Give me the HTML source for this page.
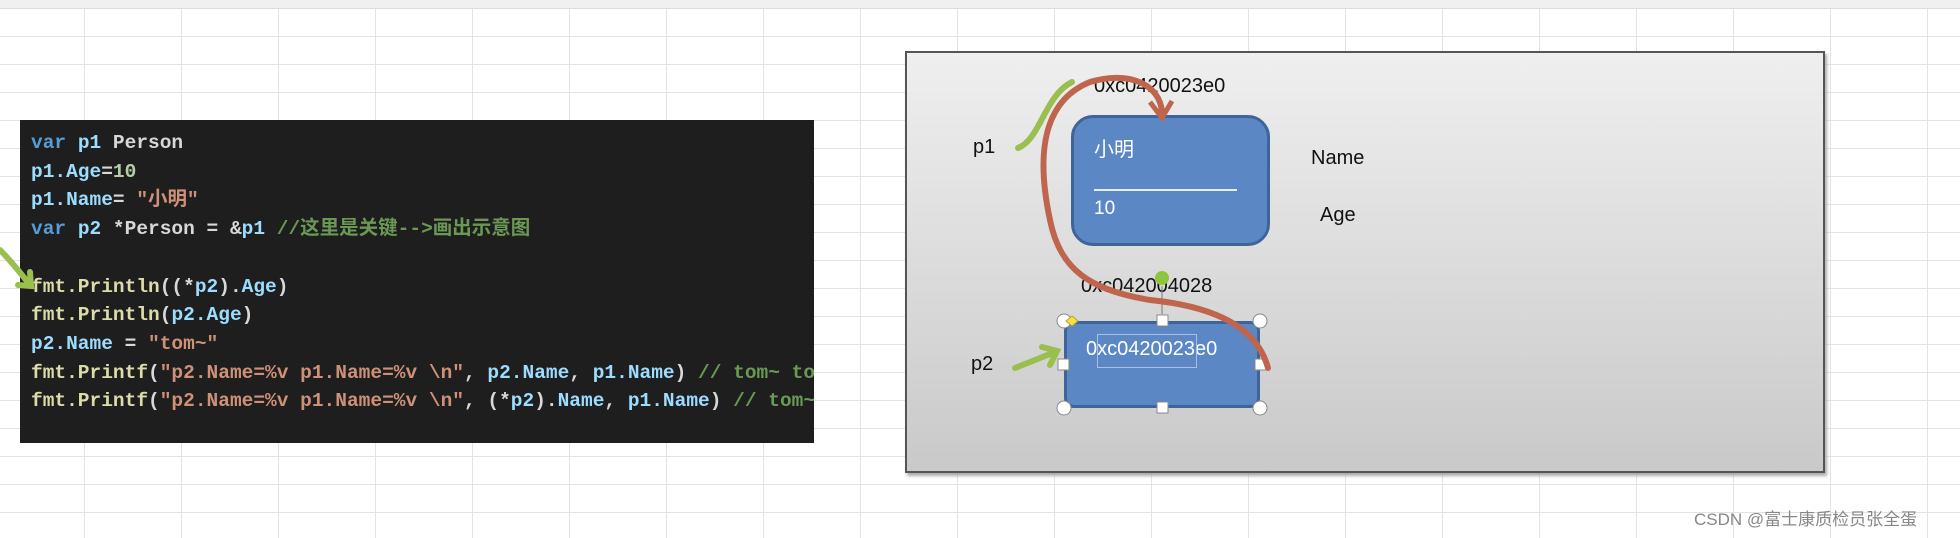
<!DOCTYPE html>
<html><head><meta charset="utf-8"><style>
html,body{margin:0;padding:0}
body{width:1960px;height:538px;position:relative;overflow:hidden;background:#fff;
background-image:linear-gradient(#e3e3e3 1px,transparent 1px),linear-gradient(90deg,#e3e3e3 1px,transparent 1px);
background-size:100% 28px,97px 100%;background-position:0 8px,84px 0;font-family:"Liberation Sans","Noto Sans CJK SC",sans-serif}
.top{position:absolute;left:0;top:0;width:1960px;height:8px;background:#f0f0f0;border-bottom:1px solid #ddd}
.code{position:absolute;left:20px;top:120px;width:794px;height:323px;background:#1e1e1e;overflow:hidden}
.code pre{margin:0;position:absolute;left:11px;top:9px;font-family:"Liberation Mono","Noto Sans CJK SC",monospace;font-size:19.5px;line-height:28.7px;color:#d8d8d8;font-weight:bold;white-space:pre}
.k{color:#569cd6}.v{color:#9cdcfe}.s{color:#ce9178}.c{color:#6a9955}.n{color:#b5cea8}.y{color:#dcdcaa}
.panel{position:absolute;left:905px;top:51px;width:916px;height:418px;border:2px solid #555;background:linear-gradient(#efefef,#c9c9c9);box-shadow:2px 3px 3px #aaa}
.t{position:absolute;font-size:20px;color:#111;white-space:nowrap}
.box{position:absolute;background:#5b87c5;border:3px solid #3f6499;box-sizing:border-box}
.w{position:absolute;color:#fff;font-size:20px;white-space:nowrap}
.wm{position:absolute;left:1694px;top:505px;font-size:17px;color:#888;white-space:nowrap}
</style></head><body>
<div class="top"></div>
<div class="code"><pre><span class="k">var</span> <span class="v">p1</span> Person
<span class="v">p1.Age</span>=<span class="n">10</span>
<span class="v">p1.Name</span>= <span class="s">"小明"</span>
<span class="k">var</span> <span class="v">p2</span> *Person = &amp;<span class="v">p1</span> <span class="c">//这里是关键--&gt;画出示意图</span>

<span class="y">fmt.Println</span>((*<span class="v">p2</span>).<span class="v">Age</span>)
<span class="y">fmt.Println</span>(<span class="v">p2.Age</span>)
<span class="v">p2.Name</span> = <span class="s">"tom~"</span>
<span class="y">fmt.Printf</span>(<span class="s">"p2.Name=%v p1.Name=%v \n"</span>, <span class="v">p2.Name</span>, <span class="v">p1.Name</span>) <span class="c">// tom~ tom~</span>
<span class="y">fmt.Printf</span>(<span class="s">"p2.Name=%v p1.Name=%v \n"</span>, (*<span class="v">p2</span>).<span class="v">Name</span>, <span class="v">p1.Name</span>) <span class="c">// tom~ tom~</span></pre></div>
<div class="panel"></div>
<div class="box" style="left:1071px;top:115px;width:199px;height:131px;border-radius:22px"></div>
<div class="w" style="left:1094px;top:133px">小明</div>
<div style="position:absolute;left:1094px;top:189px;width:143px;height:2px;background:#e8eef8"></div>
<div class="w" style="left:1094px;top:198px;font-size:19px">10</div>
<div class="box" style="left:1064px;top:321px;width:196px;height:87px;border-radius:10px"></div>
<div class="w" style="left:1086px;top:338px">0xc0420023e0</div>
<div style="position:absolute;left:1097px;top:334px;width:98px;height:32px;border:1px solid #a8bfe0"></div>
<div class="t" style="left:1094px;top:75px">0xc0420023e0</div>
<div class="t" style="left:1081px;top:275px">0xc042004028</div>
<div class="t" style="left:973px;top:136px">p1</div>
<div class="t" style="left:971px;top:353px">p2</div>
<div class="t" style="left:1311px;top:147px">Name</div>
<div class="t" style="left:1320px;top:204px">Age</div>
<div class="wm">CSDN @富士康质检员张全蛋</div>
<svg width="1960" height="538" style="position:absolute;left:0;top:0">
<g fill="#fff" stroke="#888" stroke-width="1">
<circle cx="1064" cy="321" r="7"/><circle cx="1260" cy="321" r="7"/><circle cx="1064" cy="408" r="7"/><circle cx="1260" cy="408" r="7"/>
<rect x="1157" y="315" width="11" height="11"/><rect x="1157" y="402" width="11" height="11"/><rect x="1058" y="359" width="11" height="11"/><rect x="1255" y="359" width="11" height="11"/>
</g>
<line x1="1162" y1="286" x2="1162" y2="314" stroke="#777"/>
<circle cx="1162" cy="278" r="7" fill="#8cc63f"/>
<path d="M1072 316 l6 5 -6 5 -6 -5z" fill="#f5e04a" stroke="#b9a51f"/>
<g fill="none" stroke="#9bbf4f" stroke-width="6" stroke-linecap="round">
<path d="M1018 148 C1040 140,1045 95,1072 82"/>
<path d="M1015 368 L1055 352"/><path d="M1042 347 L1057 351 L1050 365"/>
<path d="M0 250 C12 262,22 275,30 285"/><path d="M18 285 L31 286 L30 272"/>
</g>
<path d="M1268 368 C1255 320,1200 305,1150 300 C1090 290,1060 270,1050 220 C1035 150,1045 100,1090 82 C1130 70,1160 85,1162 112" fill="none" stroke="#c0654d" stroke-width="6" stroke-linecap="round"/>
<path d="M1150 102 L1162 118 L1172 101" fill="none" stroke="#c0654d" stroke-width="5"/>
</svg>
</body></html>
